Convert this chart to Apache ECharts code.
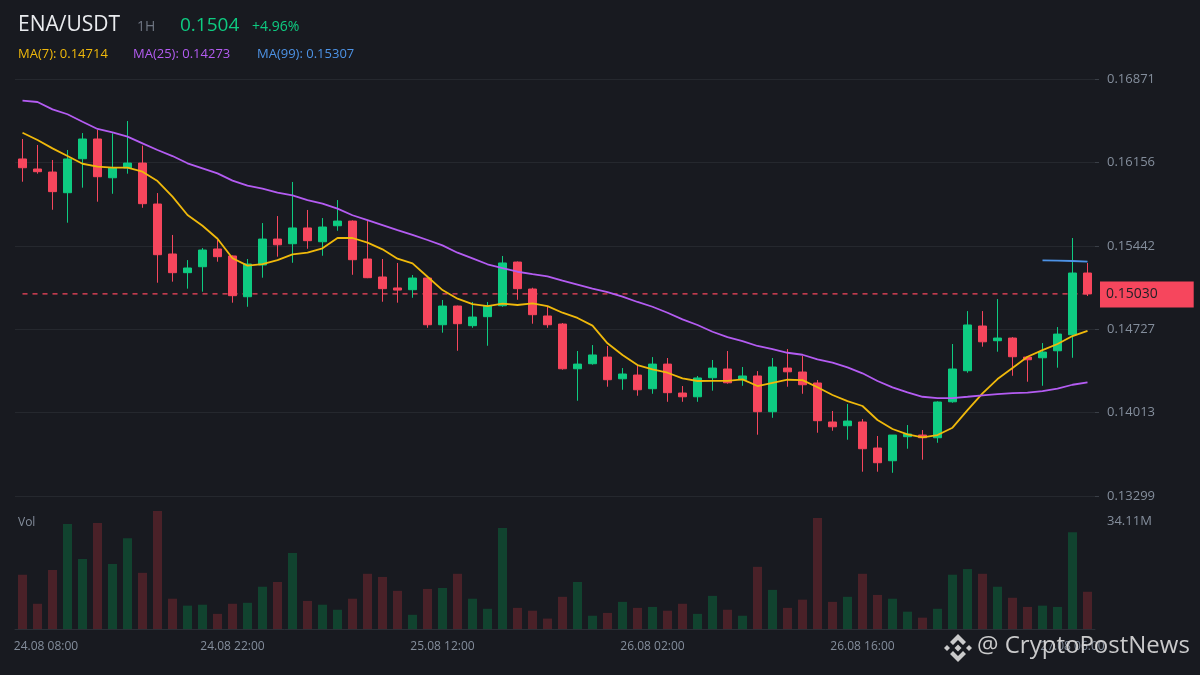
<!DOCTYPE html>
<html><head><meta charset="utf-8">
<script src="https://cdn.jsdelivr.net/npm/echarts@6/dist/echarts.min.js"></script>
<style>html,body{margin:0;padding:0;background:#181a20;}#c{width:1200px;height:675px;}</style>
</head><body><div id="c"></div>
<script>
const categories = [
 '24.08 08:00','24.08 09:00','24.08 10:00','24.08 11:00','24.08 12:00','24.08 13:00','24.08 14:00','24.08 15:00',
 '24.08 16:00','24.08 17:00','24.08 18:00','24.08 19:00','24.08 20:00','24.08 21:00','24.08 22:00','24.08 23:00',
 '25.08 00:00','25.08 01:00','25.08 02:00','25.08 03:00','25.08 04:00','25.08 05:00','25.08 06:00','25.08 07:00',
 '25.08 08:00','25.08 09:00','25.08 10:00','25.08 11:00','25.08 12:00','25.08 13:00','25.08 14:00','25.08 15:00',
 '25.08 16:00','25.08 17:00','25.08 18:00','25.08 19:00','25.08 20:00','25.08 21:00','25.08 22:00','25.08 23:00',
 '26.08 00:00','26.08 01:00','26.08 02:00','26.08 03:00','26.08 04:00','26.08 05:00','26.08 06:00','26.08 07:00',
 '26.08 08:00','26.08 09:00','26.08 10:00','26.08 11:00','26.08 12:00','26.08 13:00','26.08 14:00','26.08 15:00',
 '26.08 16:00','26.08 17:00','26.08 18:00','26.08 19:00','26.08 20:00','26.08 21:00','26.08 22:00','26.08 23:00',
 '27.08 00:00','27.08 01:00','27.08 02:00','27.08 03:00','27.08 04:00','27.08 05:00','27.08 06:00','27.08 07:00'
];
const opens = [0.16186,0.16100,0.16074,0.15897,0.16188,0.16357,0.16025,0.16109,0.16151,0.15800,
 0.15372,0.15212,0.15263,0.15415,0.15355,0.15006,0.15278,0.15500,0.15460,0.15595,
 0.15477,0.15614,0.15654,0.15329,0.15175,0.15081,0.15066,0.15166,0.14766,0.14926,
 0.14758,0.14835,0.14929,0.15303,0.15072,0.14841,0.14772,0.14389,0.14432,0.14489,
 0.14303,0.14335,0.14218,0.14429,0.14181,0.14149,0.14312,0.14387,0.14295,0.14327,
 0.14021,0.14395,0.14361,0.14267,0.13933,0.13901,0.13933,0.13710,0.13601,0.13807,
 0.13821,0.13798,0.14106,0.14372,0.14755,0.14629,0.14652,0.14489,0.14483,0.14543,
 0.14680,0.15209];
const closes = [0.16111,0.16077,0.15906,0.16186,0.16357,0.16034,0.16109,0.16151,0.15803,0.15366,
 0.15212,0.15252,0.15406,0.15349,0.15015,0.15286,0.15500,0.15451,0.15595,0.15486,
 0.15603,0.15654,0.15323,0.15169,0.15075,0.15063,0.15166,0.14766,0.14926,0.14775,
 0.14832,0.14926,0.15295,0.15075,0.14852,0.14766,0.14389,0.14429,0.14507,0.14295,
 0.14344,0.14209,0.14429,0.14184,0.14149,0.14310,0.14395,0.14269,0.14327,0.14021,
 0.14404,0.14363,0.14252,0.13944,0.13892,0.13941,0.13704,0.13584,0.13821,0.13830,
 0.13798,0.14104,0.14387,0.14764,0.14620,0.14652,0.14492,0.14466,0.14532,0.14686,
 0.15209,0.15030];
const highs = [0.16357,0.16306,0.16177,0.16263,0.16408,0.16434,0.16406,0.16511,0.16300,0.15894,
 0.15535,0.15320,0.15423,0.15492,0.15360,0.15329,0.15637,0.15697,0.15989,0.15749,
 0.15680,0.15834,0.15660,0.15654,0.15329,0.15295,0.15192,0.15170,0.14978,0.14930,
 0.14961,0.14961,0.15355,0.15308,0.15083,0.14926,0.14781,0.14541,0.14592,0.14584,
 0.14395,0.14412,0.14489,0.14481,0.14241,0.14327,0.14464,0.14541,0.14404,0.14369,
 0.14481,0.14558,0.14498,0.14292,0.14027,0.14087,0.13958,0.13813,0.13821,0.13907,
 0.13864,0.14110,0.14601,0.14883,0.14883,0.14986,0.14660,0.14495,0.14609,0.14746,
 0.15509,0.15295];
const lows = [0.15991,0.16060,0.15751,0.15640,0.15940,0.15820,0.15888,0.16060,0.15768,0.15126,
 0.15135,0.15075,0.15049,0.15306,0.14955,0.14920,0.15169,0.15349,0.15297,0.15417,
 0.15357,0.15571,0.15194,0.15165,0.14963,0.14955,0.14997,0.14740,0.14698,0.14543,
 0.14740,0.14586,0.14920,0.14980,0.14775,0.14740,0.14381,0.14115,0.14424,0.14235,
 0.14209,0.14158,0.14175,0.14106,0.14106,0.14106,0.14201,0.14261,0.14243,0.13824,
 0.13969,0.14235,0.14175,0.13841,0.13858,0.13781,0.13507,0.13507,0.13498,0.13704,
 0.13610,0.13755,0.14098,0.14355,0.14578,0.14535,0.14329,0.14278,0.14243,0.14398,
 0.14483,0.15012];
const volumes = [17.2,8.0,18.7,33.3,22.2,33.6,20.6,28.8,17.8,37.4,
 9.6,7.4,7.7,4.8,8.0,8.3,13.4,14.9,24.1,8.9,
 7.7,6.1,9.6,17.5,16.5,12.1,4.5,12.7,13.0,17.5,
 9.6,6.4,32.0,6.7,5.8,3.3,10.2,14.9,4.2,5.1,
 8.6,6.7,7.0,5.8,8.0,4.8,10.5,6.1,4.2,19.7,
 12.4,6.7,9.3,35.2,8.6,10.2,17.5,10.8,9.6,5.5,
 3.6,6.4,17.2,19.0,17.5,13.4,9.9,7.0,7.4,7.0,
 30.7,11.8];
const ma7 = [0.16411,0.16348,0.16277,0.16211,0.16145,0.16120,0.16111,0.16111,0.16077,0.15997,
 0.15863,0.15706,0.15614,0.15503,0.15335,0.15272,0.15286,0.15320,0.15369,0.15383,
 0.15421,0.15509,0.15509,0.15469,0.15412,0.15332,0.15292,0.15177,0.15063,0.14989,
 0.14943,0.14926,0.14946,0.14935,0.14949,0.14926,0.14869,0.14824,0.14758,0.14607,
 0.14507,0.14421,0.14384,0.14355,0.14307,0.14284,0.14286,0.14286,0.14298,0.14241,
 0.14269,0.14295,0.14292,0.14230,0.14164,0.14112,0.14070,0.13950,0.13873,0.13827,
 0.13801,0.13821,0.13884,0.14035,0.14178,0.14301,0.14395,0.14492,0.14549,0.14601,
 0.14669,0.14714];
const ma25 = [0.16685,0.16674,0.16611,0.16569,0.16505,0.16443,0.16414,0.16377,0.16320,0.16263,
 0.16211,0.16149,0.16106,0.16063,0.16000,0.15957,0.15931,0.15897,0.15875,0.15834,
 0.15803,0.15760,0.15704,0.15663,0.15620,0.15577,0.15535,0.15492,0.15446,0.15383,
 0.15335,0.15284,0.15252,0.15220,0.15200,0.15181,0.15143,0.15109,0.15075,0.15046,
 0.15006,0.14961,0.14920,0.14869,0.14812,0.14764,0.14706,0.14660,0.14626,0.14584,
 0.14558,0.14526,0.14509,0.14470,0.14441,0.14401,0.14350,0.14284,0.14230,0.14187,
 0.14149,0.14138,0.14138,0.14149,0.14161,0.14172,0.14181,0.14184,0.14198,0.14218,
 0.14252,0.14273];
const ma99Tail = [0.15318,0.15316,0.15312,0.15307];
const priceTicks = [0.13299,0.14013,0.14727,0.15442,0.16156,0.16871];
const volTicks = [34.11];
const lastPrice = 0.15030;

const UP = '#0ecb81', DOWN = '#f6465d';
const ma99 = categories.map((c, i) => {
  const k = i - (categories.length - ma99Tail.length);
  return k >= 0 ? ma99Tail[k] : '-';
});
const candleData = opens.map((o, i) => [o, closes[i], lows[i], highs[i]]);
const volData = volumes.map((v, i) => ({
  value: v,
  itemStyle: { color: closes[i] >= opens[i] ? '#11432f' : '#4a2128' }
}));
const lastLine = categories.map(() => lastPrice);

const chart = echarts.init(document.getElementById('c'), null, { renderer: 'canvas' });
const FONT = "'Open Sans', 'Noto Sans', sans-serif";
const WM = 'rgba(222,222,222,0.9)';
function poly(cx, cy, pts) {
  return { type: 'polygon', shape: { points: pts.map(p => [cx + p[0], cy + p[1]]) }, style: { fill: WM } };
}
const LX = 958, LY = 648;
chart.setOption({
  backgroundColor: '#181a20',
  animation: false,
  textStyle: { fontFamily: FONT },
  grid: [
    { left: 15, right: 105, top: 79, bottom: 179 },
    { left: 15, right: 105, top: 511, bottom: 46 }
  ],
  xAxis: [
    { type: 'category', gridIndex: 0, data: categories, boundaryGap: true,
      axisLine: { show: false }, axisTick: { show: false }, axisLabel: { show: false }, splitLine: { show: false } },
    { type: 'category', gridIndex: 1, data: categories, boundaryGap: true,
      axisLine: { show: true, lineStyle: { color: '#2b2f36', width: 1 } }, axisTick: { show: false },
      axisLabel: { color: '#848e9c', fontSize: 12, interval: 13, margin: 12, fontFamily: FONT,
        formatter: (v, i) => i === 0 ? '{a|' + v + '}' : v,
        rich: { a: { color: '#848e9c', fontSize: 12, fontFamily: FONT, padding: [0, 0, 0, 47] } } },
      splitLine: { show: false } }
  ],
  yAxis: [
    { type: 'value', gridIndex: 0, position: 'right', min: 0.13299, max: 0.16871, scale: true,
      axisLine: { show: false },
      axisTick: { show: true, length: 4, customValues: priceTicks, lineStyle: { color: '#3a3f47' } },
      axisLabel: { customValues: priceTicks, color: '#848e9c', fontSize: 13, margin: 12, fontFamily: FONT,
        formatter: v => Number(v).toFixed(5) },
      splitLine: { show: true, lineStyle: { color: '#25282e', width: 1 } } },
    { type: 'value', gridIndex: 1, position: 'right', min: 0, max: 37.4,
      axisLine: { show: false }, axisTick: { show: false },
      axisLabel: { customValues: volTicks, color: '#848e9c', fontSize: 13, margin: 12, fontFamily: FONT,
        formatter: v => Number(v).toFixed(2) + 'M' },
      splitLine: { show: false } }
  ],
  series: [
    { type: 'candlestick', xAxisIndex: 0, yAxisIndex: 0, data: candleData, barWidth: 9,
      itemStyle: { color: UP, color0: DOWN, borderColor: UP, borderColor0: DOWN, borderWidth: 1 },
      markLine: { silent: true, symbol: ['none', 'none'],
        data: [{ yAxis: lastPrice }],
        lineStyle: { color: 'rgba(0,0,0,0)', width: 0 },
        label: { show: true, position: 'end', distance: 5, offset: [0, -3], formatter: () => lastPrice.toFixed(5),
          backgroundColor: DOWN, color: '#1e2026', fontSize: 14, fontFamily: FONT, padding: [6, 36, 6, 6] } } },
    { type: 'line', xAxisIndex: 0, yAxisIndex: 0, data: lastLine, symbol: 'none', silent: true, z: 1,
      lineStyle: { color: DOWN, type: [5, 5], width: 1.2 }, itemStyle: { color: DOWN } },
    { type: 'line', xAxisIndex: 0, yAxisIndex: 0, data: ma7, symbol: 'none', smooth: false,
      lineStyle: { color: '#f0b90b', width: 1.8 }, itemStyle: { color: '#f0b90b' }, z: 3 },
    { type: 'line', xAxisIndex: 0, yAxisIndex: 0, data: ma25, symbol: 'none', smooth: false,
      lineStyle: { color: '#b45cf2', width: 1.8 }, itemStyle: { color: '#b45cf2' }, z: 3 },
    { type: 'line', xAxisIndex: 0, yAxisIndex: 0, data: ma99, symbol: 'none', smooth: false,
      lineStyle: { color: '#4d93e6', width: 1.8 }, itemStyle: { color: '#4d93e6' }, z: 3 },
    { type: 'bar', xAxisIndex: 1, yAxisIndex: 1, data: volData, barWidth: 9 }
  ],
  graphic: [
    { type: 'text', left: 18, top: 15, style: { text: 'ENA/USDT', fill: '#eaecef', font: '21px ' + FONT } },
    { type: 'text', left: 137, top: 20, style: { text: '1H', fill: '#6f7683', font: '14px ' + FONT } },
    { type: 'text', left: 180, top: 16, style: { text: '0.1504', fill: UP, font: '19px ' + FONT } },
    { type: 'text', left: 252, top: 20, style: { text: '+4.96%', fill: UP, font: '14px ' + FONT } },
    { type: 'text', left: 18, top: 48, style: { text: 'MA(7): 0.14714', fill: '#f0b90b', font: '13px ' + FONT } },
    { type: 'text', left: 133, top: 48, style: { text: 'MA(25): 0.14273', fill: '#b45cf2', font: '13px ' + FONT } },
    { type: 'text', left: 257, top: 48, style: { text: 'MA(99): 0.15307', fill: '#4d93e6', font: '13px ' + FONT } },
    { type: 'text', left: 18, top: 517, style: { text: 'Vol', fill: '#848e9c', font: '12px ' + FONT } },
    { type: 'group', z: 100, children: [
      poly(LX, LY, [[0, -3.5], [3.5, 0], [0, 3.5], [-3.5, 0]]),
      poly(LX, LY, [[-11, -3], [-8, 0], [-11, 3], [-14, 0]]),
      poly(LX, LY, [[11, -3], [14, 0], [11, 3], [8, 0]]),
      poly(LX, LY, [[0, -14], [8, -6], [5, -3], [0, -8], [-5, -3], [-8, -6]]),
      poly(LX, LY, [[0, 14], [8, 6], [5, 3], [0, 8], [-5, 3], [-8, 6]])
    ] },
    { type: 'text', z: 100, left: 977, top: 634, style: { text: '@ CryptoPostNews', fill: WM, font: '24px ' + FONT } }
  ]
});
</script>
</body></html>
